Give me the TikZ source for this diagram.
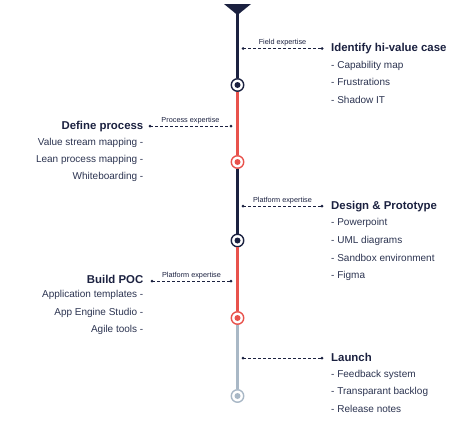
\documentclass[tikz,border=0pt]{standalone}
\usepackage{fontspec}
\setmainfont{Liberation Sans}
\definecolor{navy}{HTML}{1B2140}
\definecolor{tred}{HTML}{E8524C}
\definecolor{tgray}{HTML}{A9B8C6}
\definecolor{txt}{HTML}{2B3350}
\begin{document}
\begin{tikzpicture}[x=1pt,y=-1pt,
  seg/.style={line width=2.6pt,#1},
  milestone/.style={circle,draw=#1,line width=1.4pt,fill=white,minimum size=12.5pt,inner sep=0pt,
    path picture={\fill[#1] (path picture bounding box.center) circle (3pt);}},
  conn/.style={draw=navy,line width=0.7pt,dash pattern=on 3pt off 2pt},
  enddot/.style={fill=navy},
  lbl/.style={font=\fontsize{7.3}{8}\selectfont,text=navy,anchor=south,inner sep=1.5pt,yshift=0.5pt},
  ttl/.style={font=\fontsize{11.4}{13}\selectfont\bfseries,text=navy,inner sep=0pt,text height=8.5pt,text depth=2pt},
  item/.style={font=\fontsize{10}{12}\selectfont,text=txt,inner sep=0pt,text height=7.4pt,text depth=2pt},
]
\useasboundingbox (0,0) rectangle (474,426);
\fill[navy] (224,4) -- (251,4) -- (237.5,15) -- cycle;
\coordinate (top) at (237.5,12);
\node[milestone=navy] (c1) at (237.5,85) {};
\node[milestone=tred] (c2) at (237.5,162) {};
\node[milestone=navy] (c3) at (237.5,240.5) {};
\node[milestone=tred] (c4) at (237.5,318) {};
\node[milestone=tgray] (c5) at (237.5,396) {};
\draw[seg=navy] (top) -- (c1.north);
\draw[seg=tred] (c1.south) -- (c2.north);
\draw[seg=navy] (c2.south) -- (c3.north);
\draw[seg=tred] (c3.south) -- (c4.north);
\draw[seg=tgray] (c4.south) -- (c5.north);

% Identify hi-value case
\coordinate (a1) at (243,48.5); \coordinate (a2) at (322,48.5);
\draw[conn] (a1) -- node[lbl]{Field expertise} (a2);
\fill[enddot] (a1) circle (1.5pt) (a2) circle (1.5pt);
\node[ttl,anchor=west] (t1) at (331,48.5) {Identify hi-value case};
\node[item,anchor=west] (t1a) at (331,65.5) {- Capability map};
\node[item,anchor=west] (t1b) at (331,83) {- Frustrations};
\node[item,anchor=west] (t1c) at (331,100.5) {- Shadow IT};

% Define process
\coordinate (b1) at (150,126); \coordinate (b2) at (231,126);
\draw[conn] (b1) -- node[lbl]{Process expertise} (b2);
\fill[enddot] (b1) circle (1.5pt) (b2) circle (1.5pt);
\node[ttl,anchor=east] (t2) at (143.5,126) {Define process};
\node[item,anchor=east] (t2a) at (143.5,142.5) {Value stream mapping -};
\node[item,anchor=east] (t2b) at (143.5,159.5) {Lean process mapping -};
\node[item,anchor=east] (t2c) at (143.5,176.5) {Whiteboarding -};

% Design & Prototype
\coordinate (d1) at (243,206); \coordinate (d2) at (322,206);
\draw[conn] (d1) -- node[lbl]{Platform expertise} (d2);
\fill[enddot] (d1) circle (1.5pt) (d2) circle (1.5pt);
\node[ttl,anchor=west] (t3) at (331,206) {Design \& Prototype};
\node[item,anchor=west] (t3a) at (331,223) {- Powerpoint};
\node[item,anchor=west] (t3b) at (331,241) {- UML diagrams};
\node[item,anchor=west] (t3c) at (331,258.5) {- Sandbox environment};
\node[item,anchor=west] (t3d) at (331,276) {- Figma};

% Build POC
\coordinate (e1) at (152,281); \coordinate (e2) at (231,281);
\draw[conn] (e1) -- node[lbl]{Platform expertise} (e2);
\fill[enddot] (e1) circle (1.5pt) (e2) circle (1.5pt);
\node[ttl,anchor=east] (t4) at (143.5,280) {Build POC};
\node[item,anchor=east] (t4a) at (143.5,294.5) {Application templates -};
\node[item,anchor=east] (t4b) at (143.5,312.5) {App Engine Studio -};
\node[item,anchor=east] (t4c) at (143.5,330) {Agile tools -};

% Launch
\coordinate (g1) at (243,358); \coordinate (g2) at (322,358);
\draw[conn] (g1) -- (g2);
\fill[enddot] (g1) circle (1.5pt) (g2) circle (1.5pt);
\node[ttl,anchor=west] (t5) at (331,358) {Launch};
\node[item,anchor=west] (t5a) at (331,374.5) {- Feedback system};
\node[item,anchor=west] (t5b) at (331,392) {- Transparant backlog};
\node[item,anchor=west] (t5c) at (331,409.5) {- Release notes};
\end{tikzpicture}
\end{document}
